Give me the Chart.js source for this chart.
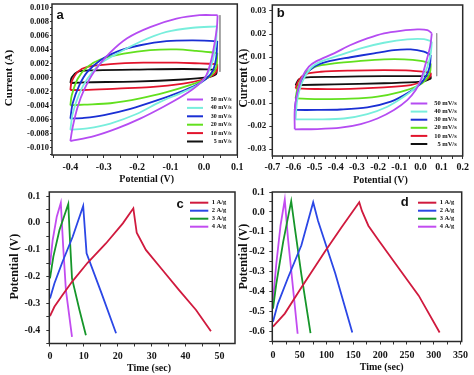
<!DOCTYPE html>
<html>
<head>
<meta charset="utf-8">
<script src="https://cdn.jsdelivr.net/npm/chart.js@4.4.1/dist/chart.umd.min.js"></script>
<style>
html,body{margin:0;padding:0;background:#fff}
#wrap{position:relative;width:474px;height:375px;overflow:hidden;background:#fff}
#wrap canvas{position:absolute;left:0;top:0}
</style>
</head>
<body>
<div id="wrap">
  <canvas id="cv-a" width="474" height="375"></canvas>
  <canvas id="cv-b" width="474" height="375"></canvas>
  <canvas id="gcd-c" width="474" height="375"></canvas>
  <canvas id="gcd-d" width="474" height="375"></canvas>
</div>
<script>
/* CV + GCD figure, four panels */

/* ── Data ── */
var SCAN_RATES=['50 mV/s','40 mV/s','30 mV/s','20 mV/s','10 mV/s','5 mV/s'];
var CV_COLORS=['#b54cf2','#78eedc','#1a2fd4','#62e01e','#e2142c','#111111'];
var CURRENT_DENS=['1 A/g','2 A/g','3 A/g','4 A/g'];
var GCD_COLORS=['#d01a3e','#2b47e6','#16962a','#c24cf0'];

// panel a: potential (V), current (A); loop starts at the left corner
var cvA50=[[-0.400,-0.0091],[-0.393,-0.0071],[-0.378,-0.0042],[-0.359,-0.0018],[-0.329,0.0008],[-0.284,0.0034],[-0.230,0.0056],[-0.161,0.0072],[-0.082,0.0084],[-0.013,0.0089],[0.041,0.0089],[0.039,0.0072],[0.032,0.0049],[0.022,0.0025],[0.007,0.0003],[-0.018,-0.0011],[-0.062,-0.0026],[-0.121,-0.0042],[-0.191,-0.0059],[-0.260,-0.0073],[-0.329,-0.0084]];
var cvA40=[[-0.400,-0.0075],[-0.393,-0.0052],[-0.373,-0.0023],[-0.349,-0.0002],[-0.309,0.0020],[-0.260,0.0034],[-0.191,0.0051],[-0.112,0.0065],[-0.033,0.0071],[0.039,0.0073],[0.036,0.0049],[0.027,0.0025],[0.012,0.0006],[-0.013,-0.0009],[-0.062,-0.0021],[-0.131,-0.0035],[-0.200,-0.0052],[-0.280,-0.0066],[-0.349,-0.0073]];
var cvA30=[[-0.400,-0.0059],[-0.393,-0.0037],[-0.373,-0.0011],[-0.349,0.0008],[-0.309,0.0025],[-0.260,0.0037],[-0.191,0.0046],[-0.112,0.0052],[-0.033,0.0053],[0.040,0.0052],[0.037,0.0029],[0.027,0.0010],[0.007,-0.0002],[-0.023,-0.0011],[-0.072,-0.0021],[-0.141,-0.0033],[-0.220,-0.0045],[-0.299,-0.0054],[-0.359,-0.0058]];
var cvA20=[[-0.400,-0.0040],[-0.396,-0.0026],[-0.378,-0.0002],[-0.349,0.0015],[-0.309,0.0026],[-0.240,0.0034],[-0.161,0.0039],[-0.082,0.0040],[-0.023,0.0038],[0.040,0.0035],[0.037,0.0015],[0.022,0.0003],[-0.003,-0.0004],[-0.042,-0.0011],[-0.112,-0.0021],[-0.191,-0.0030],[-0.280,-0.0037],[-0.359,-0.0039]];
var cvA10=[[-0.400,-0.0018],[-0.396,-0.0006],[-0.378,0.0008],[-0.349,0.0015],[-0.280,0.0019],[-0.181,0.0021],[-0.082,0.0021],[-0.013,0.0020],[0.040,0.0019],[0.039,0.0010],[0.027,0.0003],[-0.003,-0.0003],[-0.062,-0.0009],[-0.161,-0.0014],[-0.260,-0.0016],[-0.359,-0.0018]];
var cvA5=[[-0.400,-0.0008],[-0.396,0.0000],[-0.378,0.0008],[-0.339,0.0010],[-0.210,0.0011],[-0.062,0.0012],[0.038,0.0011],[0.037,0.0005],[0.007,0.0000],[-0.062,-0.0003],[-0.210,-0.0006],[-0.359,-0.0007]];
var cvAMarker=[[0.048,0.0089],[0.048,0.0008]];

// panel b
var cvB50=[[-0.594,-0.0214],[-0.594,-0.0130],[-0.582,-0.0058],[-0.558,0.0014],[-0.527,0.0058],[-0.495,0.0080],[-0.408,0.0116],[-0.330,0.0152],[-0.251,0.0181],[-0.172,0.0203],[-0.093,0.0214],[-0.014,0.0220],[0.033,0.0217],[0.054,0.0203],[0.046,0.0145],[0.025,0.0072],[0.002,0.0000],[-0.022,-0.0043],[-0.062,-0.0087],[-0.125,-0.0130],[-0.203,-0.0167],[-0.282,-0.0191],[-0.377,-0.0207],[-0.487,-0.0213]];
var cvB40=[[-0.590,-0.0171],[-0.582,-0.0087],[-0.558,-0.0007],[-0.519,0.0051],[-0.471,0.0080],[-0.377,0.0109],[-0.282,0.0138],[-0.172,0.0162],[-0.062,0.0177],[0.017,0.0178],[0.054,0.0167],[0.049,0.0116],[0.033,0.0058],[0.009,0.0007],[-0.022,-0.0032],[-0.077,-0.0072],[-0.156,-0.0116],[-0.251,-0.0148],[-0.361,-0.0167],[-0.487,-0.0171]];
var cvB30=[[-0.594,-0.0130],[-0.582,-0.0058],[-0.550,0.0014],[-0.503,0.0058],[-0.440,0.0080],[-0.330,0.0099],[-0.219,0.0116],[-0.125,0.0130],[-0.046,0.0133],[0.017,0.0123],[0.049,0.0109],[0.044,0.0058],[0.025,0.0014],[-0.006,-0.0022],[-0.062,-0.0058],[-0.140,-0.0094],[-0.251,-0.0119],[-0.377,-0.0128],[-0.487,-0.0130]];
var cvB20=[[-0.590,-0.0080],[-0.579,-0.0029],[-0.550,0.0022],[-0.495,0.0058],[-0.408,0.0072],[-0.282,0.0083],[-0.172,0.0090],[-0.077,0.0090],[0.002,0.0083],[0.049,0.0072],[0.046,0.0036],[0.025,0.0000],[-0.014,-0.0026],[-0.093,-0.0051],[-0.203,-0.0072],[-0.330,-0.0081],[-0.487,-0.0083]];
var cvB10=[[-0.590,-0.0036],[-0.574,0.0000],[-0.542,0.0026],[-0.471,0.0036],[-0.330,0.0041],[-0.172,0.0043],[-0.046,0.0041],[0.049,0.0032],[0.048,0.0017],[0.017,-0.0003],[-0.046,-0.0022],[-0.172,-0.0032],[-0.330,-0.0038],[-0.487,-0.0039]];
var cvB5=[[-0.590,-0.0022],[-0.574,0.0003],[-0.534,0.0012],[-0.408,0.0014],[-0.172,0.0017],[0.049,0.0017],[0.048,0.0006],[0.002,-0.0007],[-0.172,-0.0014],[-0.408,-0.0019]];
var cvBMarker=[[0.077,0.0203],[0.077,0.0017]];

// panel c: time (s), potential (V)
var gcdC1=[[0,-0.348],[1.3,-0.313],[3.7,-0.269],[6.5,-0.220],[11.1,-0.149],[16.5,-0.077],[21.5,-0.002],[24.6,0.054],[25.6,-0.037],[28.3,-0.101],[33.2,-0.176],[38.1,-0.251],[43.1,-0.325],[47.5,-0.404]];
var gcdC2=[[0,-0.282],[1.3,-0.226],[3.7,-0.145],[6.7,-0.052],[9.8,0.063],[10.8,-0.114],[15.2,-0.262],[19.5,-0.412]];
var gcdC3=[[0,-0.207],[1.0,-0.126],[2.8,-0.027],[5.4,0.070],[5.9,-0.064],[6.5,-0.207],[8.7,-0.325],[10.6,-0.419]];
var gcdC4=[[0,-0.157],[0.8,-0.064],[2.0,0.023],[3.2,0.075],[3.9,-0.089],[4.7,-0.251],[6.5,-0.425]];

// panel d
var gcdD1=[[0,-0.575],[22,-0.510],[53,-0.379],[97,-0.199],[128,-0.077],[161,0.049],[166,0.005],[178,-0.069],[197,-0.142],[228,-0.257],[272,-0.420],[311,-0.605]];
var gcdD2=[[0,-0.551],[9,-0.461],[28,-0.330],[53,-0.167],[75,0.049],[84,-0.044],[116,-0.306],[148,-0.605]];
var gcdD3=[[0,-0.485],[6,-0.363],[19,-0.150],[34,0.054],[41,-0.085],[53,-0.314],[70,-0.608]];
var gcdD4=[[0,-0.444],[6,-0.265],[14,-0.069],[22,0.062],[28,-0.134],[46,-0.611]];

/* ── Helpers ── */
var SERIF='"Liberation Serif","Times New Roman",serif';
var SANS='"Liberation Sans",Arial,sans-serif';
Chart.defaults.animation=false;
Chart.defaults.devicePixelRatio=1;

function toXY(pts){ return pts.map(function(p){return {x:p[0],y:p[1]};}); }
// split a closed loop at its right-most point so the turning corners stay sharp
function splitLoop(pts){
  var k=0;
  pts.forEach(function(p,i){ if(p[0]>pts[k][0]) k=i; });
  return [pts.slice(0,k+1), pts.slice(k).concat([pts[0]])];
}
function isMajor(v,major){ var r=v/major; return Math.abs(r-Math.round(r))<1e-6; }
function fmt(v,dec){ return (Math.abs(v)<1e-9?0:v).toFixed(dec); }

function lineDs(pts,color,width,tension){
  return {data:toXY(pts),showLine:true,borderColor:color,backgroundColor:color,borderWidth:width,pointRadius:0,tension:tension,fill:false};
}
function cvDatasets(loops,marker){
  var out=[];
  loops.forEach(function(loop,i){
    splitLoop(loop).forEach(function(branch){ out.push(lineDs(branch,CV_COLORS[i],1.8,0.3)); });
  });
  out.push(lineDs(marker,'#9a9a9a',1,0));
  return out;
}
function gcdDatasets(series){
  return series.map(function(s,i){ return lineDs(s,GCD_COLORS[i],1.8,0); });
}

function axisCfg(a,isX,size){
  return {
    type:'linear',min:a.min,max:a.max,
    afterBuildTicks:function(s){
      var k0=Math.ceil(a.min/a.step-1e-6),k1=Math.floor(a.max/a.step+1e-6),t=[];
      for(var k=k0;k<=k1;k++) t.push({value:+(k*a.step).toFixed(10)});
      s.ticks=t;
    },
    ticks:{autoSkip:false,maxRotation:0,padding:a.pad,color:'#151515',
      font:{family:SERIF,size:a.font,weight:'bold'},
      callback:function(v){ return isMajor(v,a.major)?fmt(v,a.dec):''; }},
    grid:{display:true,drawOnChartArea:false,drawTicks:true,tickLength:a.tick,color:'#333',lineWidth:1},
    border:{display:false},
    afterFit:function(s){
      if(isX) s.height=size; else s.width=size;
      s.paddingTop=0;s.paddingBottom=0;s.paddingLeft=0;s.paddingRight=0;
    }
  };
}

/* frame, panel letter, axis titles, legend */
var panelDeco={
  id:'panelDeco',
  afterDraw:function(chart,args,o){
    var ctx=chart.ctx,a=chart.chartArea;
    ctx.save();
    ctx.strokeStyle='#2a2a2a';ctx.lineWidth=1.5;
    ctx.strokeRect(a.left,a.top,a.right-a.left,a.bottom-a.top);
    ctx.fillStyle='#111';ctx.textAlign='center';ctx.textBaseline='middle';
    ctx.font='bold 13px '+SANS;
    ctx.fillText(o.letter[0],o.letter[1],o.letter[2]);
    ctx.font='bold '+o.xTitle[3]+'px '+SERIF;
    ctx.fillText(o.xTitle[0],o.xTitle[1],o.xTitle[2]);
    ctx.save();
    ctx.translate(o.yTitle[1],o.yTitle[2]);ctx.rotate(-Math.PI/2);
    ctx.font='bold '+o.yTitle[3]+'px '+SERIF;
    ctx.fillText(o.yTitle[0],0,0);
    ctx.restore();
    var L=o.legend;
    L.labels.forEach(function(lbl,i){
      var y=L.y0+i*L.dy;
      ctx.strokeStyle=L.colors[i];ctx.lineWidth=2;
      ctx.beginPath();ctx.moveTo(L.x1,y);ctx.lineTo(L.x2,y);ctx.stroke();
      ctx.fillStyle='#111';ctx.font='bold '+L.size+'px '+SERIF;
      ctx.textAlign=L.align;
      ctx.fillText(lbl,L.tx,y);
    });
    ctx.restore();
  }
};

function buildPanel(id,p){
  var W=474,H=375,xh=20;
  new Chart(document.getElementById(id),{
    type:'scatter',
    data:{datasets:p.datasets},
    plugins:[panelDeco],
    options:{
      responsive:false,animation:false,events:[],
      layout:{padding:{left:p.padLeft,top:p.box.t,right:W-p.box.r,bottom:H-p.box.b-xh}},
      plugins:{legend:{display:false},tooltip:{enabled:false},panelDeco:p.deco},
      scales:{x:axisCfg(p.x,true,xh),y:axisCfg(p.y,false,p.box.l-p.padLeft)}
    }
  });
}

/* ── Panels ── */
buildPanel('cv-a',{
  box:{l:52,t:4,r:237.3,b:155},padLeft:0,
  datasets:cvDatasets([cvA50,cvA40,cvA30,cvA20,cvA10,cvA5],cvAMarker),
  x:{min:-0.455,max:0.1,step:0.05,major:0.1,dec:1,font:10,pad:3,tick:3},
  y:{min:-0.0111,max:0.0105,step:0.001,major:0.002,dec:3,font:8.5,pad:1,tick:2},
  deco:{letter:['a',60,15],xTitle:['Potential (V)',146.7,179.5,10],yTitle:['Current (A)',9,78,11],
    legend:{labels:SCAN_RATES,colors:CV_COLORS,x1:187,x2:203,tx:231.7,align:'right',y0:99.5,dy:8.4,size:6}}
});

buildPanel('cv-b',{
  box:{l:272.3,t:5,r:462.7,b:156},padLeft:234,
  datasets:cvDatasets([cvB50,cvB40,cvB30,cvB20,cvB10,cvB5],cvBMarker),
  x:{min:-0.7,max:0.2,step:0.05,major:0.1,dec:1,font:10,pad:2,tick:3},
  y:{min:-0.033,max:0.0326,step:0.005,major:0.01,dec:2,font:9,pad:3,tick:3},
  deco:{letter:['b',280.7,13.3],xTitle:['Potential (V)',380.5,180,10],yTitle:['Current (A)',244,78,11.5],
    legend:{labels:SCAN_RATES,colors:CV_COLORS,x1:410.7,x2:427.3,tx:456.7,align:'right',y0:103.5,dy:8.1,size:6.5}}
});

buildPanel('gcd-c',{
  box:{l:49.3,t:192,r:235,b:343.5},padLeft:0,
  datasets:gcdDatasets([gcdC1,gcdC2,gcdC3,gcdC4]),
  x:{min:-0.2,max:54.6,step:5,major:10,dec:0,font:10,pad:4,tick:3},
  y:{min:-0.45,max:0.115,step:0.05,major:0.1,dec:1,font:10,pad:6,tick:3},
  deco:{letter:['c',180,204],xTitle:['Time (sec)',149,368.3,10],yTitle:['Potential (V)',15.3,266.7,12],
    legend:{labels:CURRENT_DENS,colors:GCD_COLORS,x1:190,x2:208.3,tx:211.7,align:'left',y0:202.7,dy:8,size:6.5}}
});

buildPanel('gcd-d',{
  box:{l:272.3,t:192,r:461.7,b:341.5},padLeft:234,
  datasets:gcdDatasets([gcdD1,gcdD2,gcdD3,gcdD4]),
  x:{min:-1.3,max:352.2,step:25,major:50,dec:0,font:10,pad:5,tick:3},
  y:{min:-0.65,max:0.1,step:0.05,major:0.1,dec:1,font:10,pad:4.5,tick:3},
  deco:{letter:['d',404.7,202.7],xTitle:['Time (sec)',381.7,367.3,10],yTitle:['Potential (V)',243.5,256.7,12],
    legend:{labels:CURRENT_DENS,colors:GCD_COLORS,x1:418,x2:436.3,tx:439.7,align:'left',y0:202.7,dy:8,size:6.5}}
});
</script>
</body>
</html>
